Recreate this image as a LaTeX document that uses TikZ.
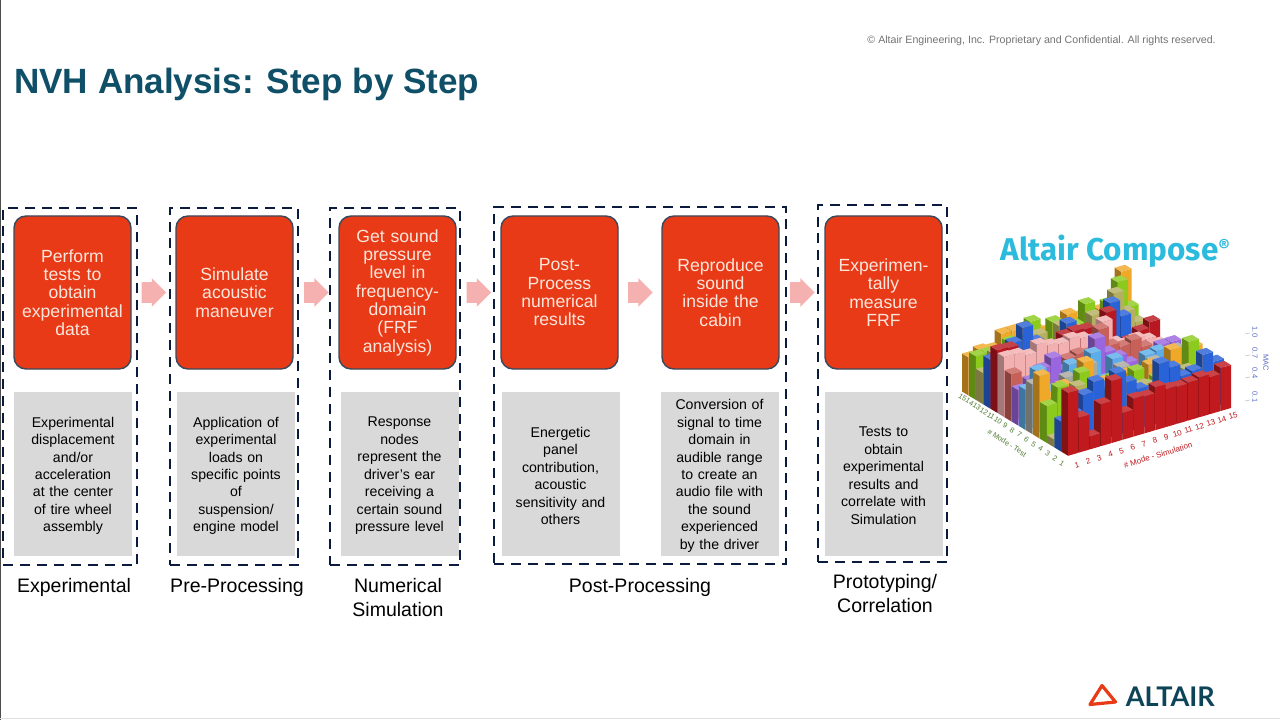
\documentclass[tikz,border=0pt]{standalone}
\usepackage{fontspec}
\setmainfont{Liberation Sans}
\newfontfamily\composefont{Fira Sans}
\newfontfamily\logofont{Lato}
\usetikzlibrary{shapes.arrows}
\definecolor{titleteal}{HTML}{0F5068}
\definecolor{redfill}{HTML}{E83A17}
\definecolor{redline}{HTML}{3A4A5C}
\definecolor{redtext}{HTML}{FBE6DC}
\definecolor{grayfill}{HTML}{D9D9D9}
\definecolor{dashnavy}{HTML}{0B1B3D}
\definecolor{pinkarrow}{HTML}{F5B0B0}
\definecolor{cyancompose}{HTML}{2CBBDC}
\definecolor{cR}{HTML}{C01A1E}
\definecolor{cB}{HTML}{2A62D8}
\definecolor{cT}{HTML}{B5B060}
\definecolor{cG}{HTML}{8CCB1E}
\definecolor{cO}{HTML}{F0A828}
\definecolor{cY}{HTML}{A8A8A0}
\definecolor{cL}{HTML}{5CAEEA}
\definecolor{cP}{HTML}{9A66E0}
\definecolor{cM}{HTML}{C8605A}
\definecolor{cK}{HTML}{F2B0B0}
\definecolor{cD}{HTML}{B81820}
\definecolor{tickgr}{HTML}{4E7A30}
\definecolor{tickbl}{HTML}{5A6AC0}
\tikzset{
  dashbox/.style={draw=dashnavy,line width=1.9pt,dash pattern=on 7.5pt off 5.2pt,minimum width=#1,inner sep=0pt},
  redbox/.style={draw=redline,line width=1.1pt,fill=redfill,rounded corners=9pt,minimum width=87.75pt,minimum height=114.75pt,
    text width=84pt,align=center,text=redtext,inner sep=0pt,font=\fontsize{13.2}{13.75}\selectfont},
  graybox/.style={fill=grayfill,minimum width=88.5pt,minimum height=123pt,inner sep=0pt},
  graytext/.style={text width=82pt,align=center,text=black,inner sep=0pt,yshift=-1.4pt,font=\fontsize{10.6}{13.1}\selectfont},
  blockarrow/.style={single arrow,fill=pinkarrow,minimum height=18.5pt,inner xsep=0pt,inner ysep=7.5pt,single arrow head extend=3pt,shape border rotate=0,xshift=-3.6pt},
  caption/.style={align=center,text=black,inner sep=0pt,font=\fontsize{14.65}{18}\selectfont},
  tickred/.style={text=cR,inner sep=0pt,font=\fontsize{6}{6}\selectfont,rotate=17},
  tickgreen/.style={text=tickgr,inner sep=0pt,font=\fontsize{5.5}{6}\selectfont,rotate=-33},
  tickblue/.style={text=tickbl,inner sep=0pt,font=\fontsize{5.6}{6}\selectfont,rotate=-90},
}
\begin{document}
\begin{tikzpicture}[x=0.75pt,y=-0.75pt]
\useasboundingbox (0,0) rectangle (1280,720);
\fill[white] (0,0) rectangle (1280,720);
\draw[black!70,line width=0.6pt] (0.4,0) -- (0.4,720);
\draw[black!12,line width=0.6pt] (0,718.5) -- (1280,718.5);

\node[anchor=west,inner sep=0pt,text=titleteal,font=\fontsize{26.3}{30}\selectfont\bfseries] (title) at (14,84) {NVH Analysis: Step by Step};
\node[anchor=east,inner sep=0pt,text=black!55,font=\fontsize{7.97}{10}\selectfont] (copy) at (1216,41) {© Altair Engineering, Inc. Proprietary and Confidential. All rights reserved.};

% dashed groups
\node[dashbox=100.5pt,minimum height=267.75pt] (d1) at (70,386.5) {};
\node[dashbox=96pt,minimum height=267.75pt] (d2) at (234,386.5) {};
\node[dashbox=97.5pt,minimum height=267.75pt] (d3) at (395,386.5) {};
\node[dashbox=219pt,minimum height=267.75pt] (d4) at (640,385.5) {};
\node[dashbox=96.75pt,minimum height=267.75pt] (d5) at (882.5,383.5) {};

% red boxes
\node[redbox] (r1) at (72.5,292.5) {Perform\\tests to\\obtain\\experimental\\data};
\node[redbox] (r2) at (234.5,292.5) {Simulate\\acoustic\\maneuver};
\node[redbox] (r3) at (397.5,292.5) {Get sound\\pressure\\level in\\frequency-\\domain\\(FRF\\analysis)};
\node[redbox] (r4) at (559.5,292.5) {Post-\\Process\\numerical\\results};
\node[redbox] (r5) at (720.5,292.5) {Reproduce\\sound\\inside the\\cabin};
\node[redbox] (r6) at (883.5,292.5) {Experimen-\\tally\\measure\\FRF};

% gray boxes
\node[graybox] (g1) at (73,474) {};
\node[graytext] (gt1) at (g1.center) {Experimental\\displacement\\and/or\\acceleration\\at the center\\of tire wheel\\assembly};
\node[graybox] (g2) at (236,474) {};
\node[graytext] (gt2) at (g2.center) {Application of\\experimental\\loads on\\specific points\\of\\suspension/\\engine model};
\node[graybox] (g3) at (399.5,474) {};
\node[graytext] (gt3) at (g3.center) {Response\\nodes\\represent the\\driver's ear\\receiving a\\certain sound\\pressure level};
\node[graybox] (g4) at (560.5,474) {};
\node[graytext] (gt4) at (g4.center) {Energetic\\panel\\contribution,\\acoustic\\sensitivity and\\others};
\node[graybox] (g5) at (719.5,474) {};
\node[graytext] (gt5) at (g5.center) {Conversion of\\signal to time\\domain in\\audible range\\to create an\\audio file with\\the sound\\experienced\\by the driver};
\node[graybox] (g6) at (883.5,474) {};
\node[graytext] (gt6) at (g6.center) {Tests to\\obtain\\experimental\\results and\\correlate with\\Simulation};

% block arrows
\path (r1.east) -- (r2.west) node[midway,blockarrow] (a1) {};
\path (r2.east) -- (r3.west) node[midway,blockarrow] (a2) {};
\path (r3.east) -- (r4.west) node[midway,blockarrow] (a3) {};
\path (r4.east) -- (r5.west) node[midway,blockarrow] (a4) {};
\path (r5.east) -- (r6.west) node[midway,blockarrow] (a5) {};

% captions
\node[caption] (c1) at (74,587) {Experimental};
\node[caption] (c2) at (237,587) {Pre-Processing};
\node[caption] (c3) at (398,598) {Numerical\\Simulation};
\node[caption] (c4) at (640,587) {Post-Processing};
\node[caption] (c5) at (885,594) {Prototyping/\\Correlation};

% Altair Compose
\node[inner sep=0pt,text=cyancompose,font=\composefont\fontsize{23.6}{28}\selectfont\bfseries] (compose) at (1115,251) {Altair Compose\raisebox{6pt}{\fontsize{13}{13}\selectfont ®}};

% 3D bars: back to front
\foreach \cc/\vals [count=\jr] in {%
 cO/{38,42,40,52,52,52,47,42,40,52,47,42,47,42,79},%
 cG/{44,38,40,36,38,50,45,50,47,50,55,50,45,76,38},%
 cT/{44,38,40,42,46,50,44,46,48,50,46,44,72,40,36},%
 cB/{54,44,56,58,54,48,44,50,44,46,42,70,44,40,38},%
 cD/{52,60,40,48,52,45,48,46,50,42,68,38,40,36,34},%
 cK/{50,48,43,50,46,44,47,45,42,66,36,34,38,36,31},%
 cM/{53,46,44,43,46,50,46,38,66,34,31,38,34,31,36},%
 cP/{48,44,40,46,43,48,40,64,35,32,36,34,31,31,26},%
 cL/{40,43,38,40,43,38,57,30,32,32,35,32,31,26,31},%
 cY/{37,37,34,37,38,53,28,33,28,32,27,32,36,31,34},%
 cO/{57,44,39,34,63,34,28,26,28,33,29,32,37,38,34},%
 cG/{47,39,34,60,29,31,34,28,36,33,35,27,29,47,31},%
 cT/{18,22,54,39,29,27,29,27,28,26,28,26,28,29,27},%
 cB/{30,35,50,60,52,62,50,40,35,59,52,40,42,55,45},%
 cR/{63,35,13,42,62,27,38,37,43,38,37,38,40,37,43}%
}{
  \pgfmathtruncatemacro\jj{16-\jr}
  \foreach \ii in {15,14,...,1}{
    \pgfmathsetmacro\h{{\vals}[\ii-1]}
    % rows behind the front two get extra spread, the diagonal stays as tabled
    \pgfmathsetmacro\h{(\jj>2 && \jj<15 && \ii!=\jj) ? \h+13*sin(37*\ii*\jj+40*\jj) : \h}
    \pgfmathsetmacro\fx{1068+10.9*(\ii-1+0.03)-7.1*(\jj-1+0.03)}
    \pgfmathsetmacro\fy{456-3.2*(\ii-1+0.03)-4.3*(\jj-1+0.03)}
    \pgfmathsetmacro\rx{\fx+10.3}\pgfmathsetmacro\ry{\fy-3.0}
    \pgfmathsetmacro\lx{\fx-6.7}\pgfmathsetmacro\ly{\fy-4.05}
    \pgfmathsetmacro\bx{\rx-6.7}\pgfmathsetmacro\by{\ry-4.05}
    \fill[\cc!68!black] (\fx,\fy) -- (\lx,\ly) -- (\lx,\ly-\h) -- (\fx,\fy-\h) -- cycle;
    \fill[\cc] (\fx,\fy) -- (\rx,\ry) -- (\rx,\ry-\h) -- (\fx,\fy-\h) -- cycle;
    \fill[\cc!82!white] (\fx,\fy-\h) -- (\rx,\ry-\h) -- (\bx,\by-\h) -- (\lx,\ly-\h) -- cycle;
  }
}

% axis ticks
\foreach \n in {1,...,15}{
  \pgfmathsetmacro\sx{1077+11.14*(\n-1)}
  \pgfmathsetmacro\sy{465-3.5*(\n-1)}
  \node[tickred] (s\n) at (\sx,\sy) {\n};
  \pgfmathsetmacro\tx{1062-7.1*(\n-1)}
  \pgfmathsetmacro\ty{463-4.7*(\n-1)}
  \node[tickgreen] (t\n) at (\tx,\ty) {\n};
}
\node[tickred] (simlabel) at (1158,455) {\# Mode - Simulation};
\node[tickgreen] (testlabel) at (1007,443) {\# Mode - Test};
\node[tickblue] (m1) at (1255,332) {1.0};
\node[tickblue] (m2) at (1255,353) {0.7};
\node[tickblue] (m3) at (1255,373) {0.4};
\node[tickblue] (m4) at (1255,397) {0.1};
\node[tickblue] (mac) at (1266,363) {MAC};
\foreach \yy in {334,356,378,401}{
  \draw[black!25,line width=0.4pt] (1245,\yy) -- (1250,\yy-1);
}

% logo
\draw[redfill,fill=white,line join=round,line width=2.4pt] (1102,685.5) -- (1090,704.5) -- (1115.5,702) -- cycle;
\node[anchor=west,inner sep=0pt,text=titleteal!85!black,font=\logofont\fontsize{20.3}{22}\selectfont\bfseries] (altair) at (1125.5,697) {ALTAIR};
\end{tikzpicture}
\end{document}
